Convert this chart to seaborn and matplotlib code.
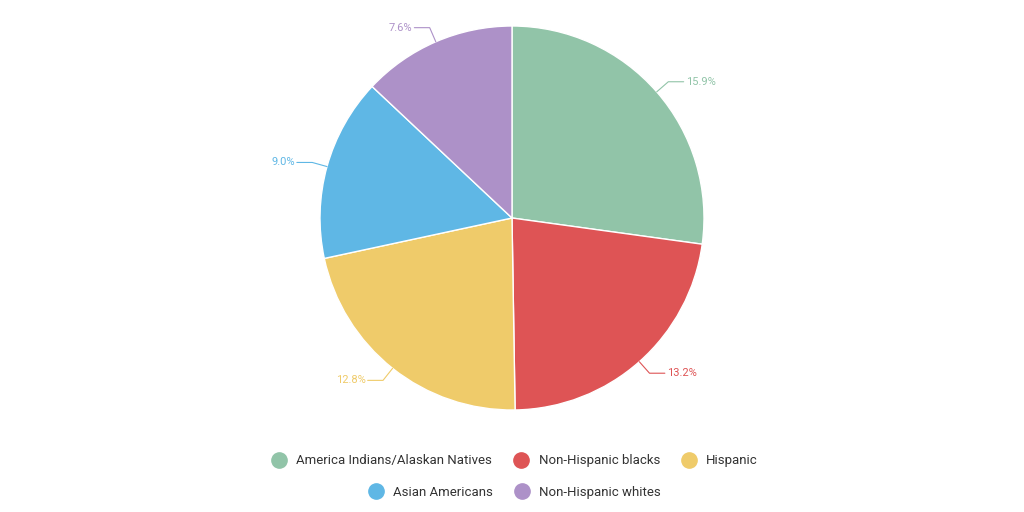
import matplotlib
matplotlib.use("Agg")
import matplotlib.pyplot as plt
import seaborn as sns
import numpy as np
from matplotlib.lines import Line2D

sns.set_theme(style="white")
plt.rcParams['font.family'] = ['Roboto', 'DejaVu Sans']

categories = ["America Indians/Alaskan Natives", "Non-Hispanic blacks", "Hispanic",
              "Asian Americans", "Non-Hispanic whites"]
values = [15.9, 13.2, 12.8, 9.0, 7.6]
colors = sns.color_palette(["#91c4a8", "#de5455", "#efcb6a", "#5fb7e5", "#ad91c8"])

fig = plt.figure(figsize=(10.24, 5.12), dpi=100)
cx, cy, r = 512, 218, 192
ax = fig.add_axes([(cx - r) / 1024, (512 - cy - r) / 512, 2 * r / 1024, 2 * r / 512])
wedges, _ = ax.pie(values, colors=colors, startangle=90, counterclock=False,
                   wedgeprops=dict(edgecolor="white", linewidth=1), radius=1)
ax.set_xlim(-1, 1); ax.set_ylim(-1, 1)

for w, v, c in zip(wedges, values, colors):
    ang = np.deg2rad((w.theta1 + w.theta2) / 2)
    x0, y0 = np.cos(ang), np.sin(ang)
    x1, y1 = 1.08 * x0, 1.08 * y0
    s = 1 if x0 >= 0 else -1
    x2 = x1 + s * 0.08
    ax.plot([x0, x1, x2], [y0, y1, y1], color=c, lw=0.8, clip_on=False)
    ax.text(x2 + s * 0.01, y1, f"{v:.1f}%", color=c, fontsize=8,
            ha="left" if s > 0 else "right", va="center")

def handles(idx):
    return [Line2D([], [], marker="o", ls="", markersize=11, markerfacecolor=colors[i],
                   markeredgecolor=colors[i]) for i in idx]

for idx, y in [([0, 1, 2], 0.10), ([3, 4], 0.038)]:
    fig.legend(handles(idx), [categories[i] for i in idx], loc="center",
               bbox_to_anchor=(0.5, y), ncol=len(idx), frameon=False, fontsize=9.5,
               handletextpad=0.3, columnspacing=1.2, labelcolor="#333333")

fig.savefig("out.png", dpi=100)
